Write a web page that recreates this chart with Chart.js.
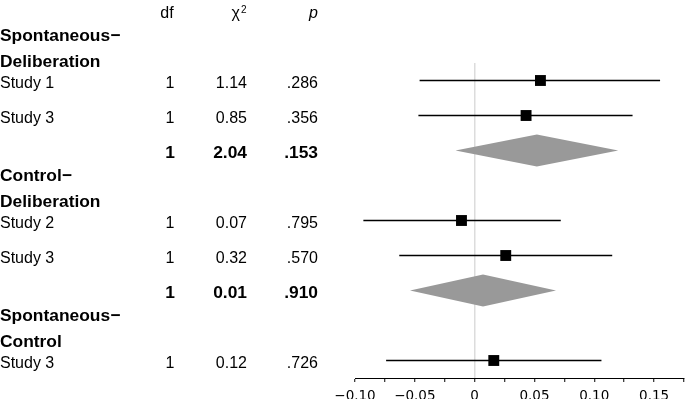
<!DOCTYPE html>
<html><head><meta charset="utf-8">
<script src="https://cdn.jsdelivr.net/npm/chart.js@4.4.0/dist/chart.umd.min.js"></script>
<style>html,body{margin:0;padding:0;background:#fff;overflow:hidden}#wrap{width:685px;height:399px;position:relative}</style>
</head><body><div id="wrap"><canvas id="c"></canvas></div>
<script>
// ---- data ----
const rowNames = ['Spontaneous−\nDeliberation', 'Study 1', 'Study 3', '',
                  'Control−\nDeliberation', 'Study 2', 'Study 3', '',
                  'Spontaneous−\nControl', 'Study 3'];
const rowKinds = ['group', 'study', 'study', 'summary',
                  'group', 'study', 'study', 'summary',
                  'group', 'study'];
const estimates = [null, 0.055, 0.043, 0.052, null, -0.011, 0.026, 0.007, null, 0.016];
const ciLower   = [null, -0.046, -0.047, -0.016, null, -0.093, -0.063, -0.054, null, -0.074];
const ciUpper   = [null, 0.155, 0.132, 0.120, null, 0.072, 0.115, 0.068, null, 0.106];
const dfValues  = ['', '1', '1', '1', '', '1', '1', '1', '', '1'];
const chiValues = ['', '1.14', '0.85', '2.04', '', '0.07', '0.32', '0.01', '', '0.12'];
const pValues   = ['', '.286', '.356', '.153', '', '.795', '.570', '.910', '', '.726'];
const xTickValues = [-0.10, -0.05, 0, 0.05, 0.10, 0.15];
const xTickLabels = ['−0.10', '−0.05', '0', '0.05', '0.10', '0.15'];

// ---- styling constants ----
const DIAMOND_HALF = 0.46;
const datasets = [];
rowKinds.forEach((k, i) => {
  if (k === 'study') {
    datasets.push({data: [{x: ciLower[i], y: i}, {x: ciUpper[i], y: i}],
      borderColor: '#000', borderWidth: 1.3, pointRadius: 0, fill: false});
  }
});
rowKinds.forEach((k, i) => {
  if (k === 'summary') {
    datasets.push({data: [{x: ciLower[i], y: i}, {x: estimates[i], y: i - DIAMOND_HALF}, {x: ciUpper[i], y: i}],
      fill: '+1', backgroundColor: '#999999', borderColor: 'rgba(0,0,0,0)', borderWidth: 1, pointRadius: 0});
    datasets.push({data: [{x: ciLower[i], y: i}, {x: estimates[i], y: i + DIAMOND_HALF}, {x: ciUpper[i], y: i}],
      fill: false, borderColor: 'rgba(0,0,0,0)', borderWidth: 1, pointRadius: 0});
  }
});
datasets.push({
  data: rowKinds.map((k, i) => k === 'study' ? {x: estimates[i], y: i} : null).filter(Boolean),
  showLine: false, pointStyle: 'rect', pointRadius: 7.7, backgroundColor: '#000', borderWidth: 0
});

const F = '"Liberation Sans", Arial, sans-serif';
const tablePlugin = {
  id: 'table',
  afterDraw(chart) {
    const ctx = chart.ctx, ys = chart.scales.y;
    ctx.save();
    ctx.fillStyle = '#000';
    ctx.textBaseline = 'alphabetic';
    const hy = ys.getPixelForValue(-1) + 7;
    ctx.font = '16px ' + F;
    ctx.textAlign = 'center'; ctx.fillText('df', 167, hy);
    ctx.textAlign = 'right'; ctx.fillText('χ', 240, hy);
    ctx.font = '10px ' + F; ctx.textAlign = 'left'; ctx.fillText('2', 241, hy - 5);
    ctx.font = 'italic 16px ' + F; ctx.textAlign = 'right'; ctx.fillText('p', 318, hy);
    rowKinds.forEach((k, i) => {
      const py = ys.getPixelForValue(i);
      if (k === 'group') {
        ctx.font = 'bold 17.4px ' + F; ctx.textAlign = 'left';
        const lines = rowNames[i].split('\n');
        ctx.fillText(lines[0], 0, py - 5);
        if (lines[1]) ctx.fillText(lines[1], 0, py + 21);
        return;
      }
      ctx.font = (k === 'summary' ? 'bold 17.4px ' : '16px ') + F;
      const by = py + 7.5;
      ctx.textAlign = 'left'; if (rowNames[i]) ctx.fillText(rowNames[i], 0, by);
      ctx.textAlign = 'center'; ctx.fillText(dfValues[i], 170, by);
      ctx.textAlign = 'right'; ctx.fillText(chiValues[i], 247, by);
      ctx.fillText(pValues[i], 318, by);
    });
    ctx.restore();
  }
};

new Chart(document.getElementById('c'), {
  type: 'line',
  data: {datasets},
  plugins: [tablePlugin],
  options: {
    responsive: true, maintainAspectRatio: false, animation: false,
    layout: {autoPadding: false, padding: {top: 63, left: 355, right: 1, bottom: 0}},
    plugins: {legend: {display: false}, tooltip: {enabled: false}, title: {display: false}},
    scales: {
      x: {
        type: 'linear', min: -0.1, max: 0.175,
        afterFit(s) { s.height = 21; s.paddingLeft = 0; s.paddingRight = 0; },
        ticks: {
          stepSize: 0.025, autoSkip: false, maxRotation: 0, minRotation: 0, padding: 6.5, color: '#000',
          font: {family: '"DejaVu Sans"', size: 13.5},
          callback(v) { const k = xTickValues.findIndex(t => Math.abs(t - v) < 1e-6); return k >= 0 ? xTickLabels[k] : ''; }
        },
        grid: {
          color: c => (c.tick && Math.abs(c.tick.value) < 1e-9) ? '#dcdcdc' : 'rgba(0,0,0,0)',
          lineWidth: 1.5, tickColor: '#000', tickWidth: 1, tickLength: 4
        },
        border: {display: true, color: '#000', width: 1}
      },
      y: {type: 'linear', display: false, reverse: true, min: 0.5, max: 9.5}
    }
  }
});
</script></body></html>
